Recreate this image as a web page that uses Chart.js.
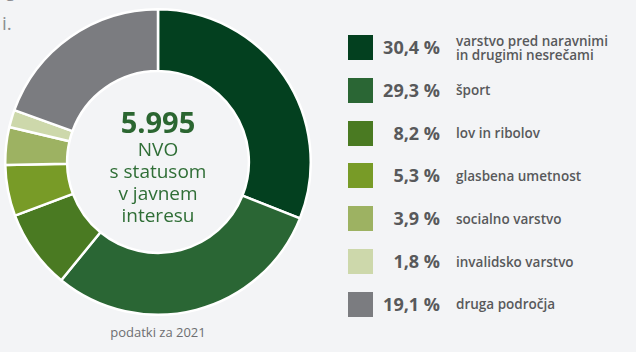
<!DOCTYPE html>
<html>
<head>
<meta charset="utf-8">
<script src="https://cdn.jsdelivr.net/npm/chart.js@4"></script>
<style>
  html, body { margin: 0; padding: 0; }
  body {
    width: 636px; height: 352px; overflow: hidden; position: relative;
    background: #f3f4f6; font-family: "Open Sans", "Noto Sans", sans-serif;
  }
  #chartBox { position: absolute; left: 4px; top: 8px; width: 308px; height: 308px; }
  #center { position: absolute; left: 58px; top: 106px; width: 200px; text-align: center; color: #2f6e36; }
  #center .big { font-size: 29px; font-weight: 700; line-height: 32px; color: #2b6631; }
  #center .sub { font-size: 19px; line-height: 22px; }
  #note { position: absolute; left: 58px; top: 323px; width: 200px; text-align: center; font-size: 13px; color: #6d6e71; }
  .cut { position: absolute; color: #8b8d90; font-size: 19px; }
  #legend { position: absolute; left: 348px; top: 35px; }
  .row { position: absolute; left: 0; height: 25px; width: 290px; }
  .sw { position: absolute; left: 0; top: 0; width: 25px; height: 25px; }
  .pct { position: absolute; left: 30px; width: 62px; top: 0; line-height: 25px; text-align: right; font-size: 18px; font-weight: 700; color: #58595b; }
  .lab { position: absolute; left: 108px; top: 50%; transform: translateY(-50%); font-size: 13.5px; line-height: 14px; font-weight: 600; color: #58595b; white-space: nowrap; }
</style>
</head>
<body>
<div class="cut" style="left:4px;top:-19px;">e</div>
<div class="cut" style="left:2px;top:10px;">i.</div>

<div id="chartBox"><canvas id="donut"></canvas></div>
<div id="center">
  <div class="big" id="total"></div>
  <div class="sub">NVO<br>s statusom<br>v javnem<br>interesu</div>
</div>
<div id="note">podatki za 2021</div>
<div id="legend"></div>

<script>
// Podatki: NVO s statusom v javnem interesu po področjih (2021)
const podrocja = [
  'varstvo pred naravnimi\nin drugimi nesrečami',
  'šport',
  'lov in ribolov',
  'glasbena umetnost',
  'socialno varstvo',
  'invalidsko varstvo',
  'druga področja'
];
const delezi = [30.4, 29.3, 8.2, 5.3, 3.9, 1.8, 19.1];
const barve = ['#03401f', '#2a6634', '#4a7a22', '#789b27', '#9db262', '#cdd8ab', '#7b7c80'];
const skupajNVO = '5.995';

document.getElementById('total').textContent = skupajNVO;

// Legenda
const legend = document.getElementById('legend');
podrocja.forEach((ime, i) => {
  const row = document.createElement('div');
  row.className = 'row';
  row.style.top = (i * 42.8) + 'px';
  row.innerHTML =
    '<div class="sw" style="background:' + barve[i] + '"></div>' +
    '<div class="pct">' + delezi[i].toFixed(1).replace('.', ',') + ' %</div>' +
    '<div class="lab">' + ime.replace('\n', '<br>') + '</div>';
  legend.appendChild(row);
});

// Kolobar
const ctx = document.getElementById('donut').getContext('2d');
new Chart(ctx, {
  type: 'doughnut',
  data: {
    labels: podrocja,
    datasets: [{
      data: delezi,
      backgroundColor: barve,
      borderColor: '#ffffff',
      borderWidth: 2.5
    }]
  },
  options: {
    responsive: true,
    maintainAspectRatio: false,
    animation: false,
    cutout: '59.5%',
    layout: { padding: 0 },
    events: [],
    plugins: {
      legend: { display: false },
      tooltip: { enabled: false }
    }
  }
});
</script>
</body>
</html>
